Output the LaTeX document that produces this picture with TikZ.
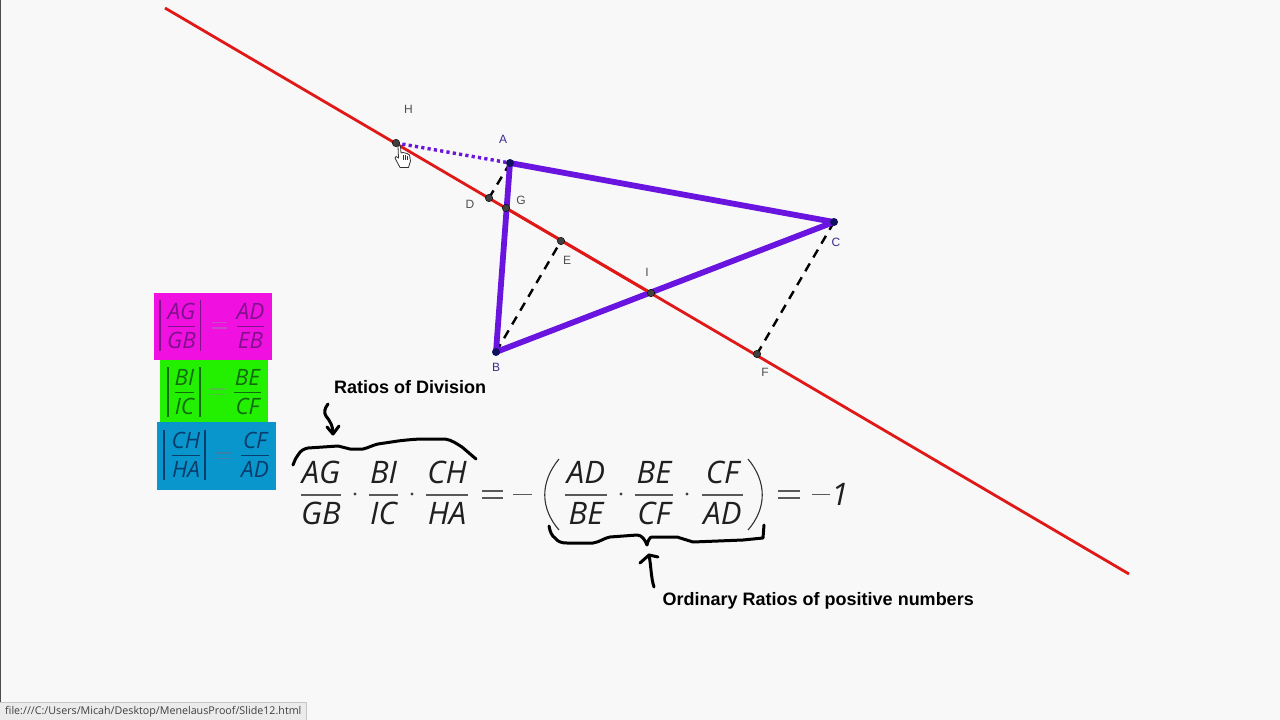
\documentclass[tikz,border=0pt]{standalone}
\usepackage{fontspec}
\setmainfont{Open Sans}
\newfontfamily\lab{Liberation Sans}
\newfontfamily\mth{Open Sans}
\definecolor{bg}{HTML}{F8F8F8}
\definecolor{vio}{HTML}{6A14E0}
\definecolor{redl}{HTML}{E01818}
\definecolor{ptg}{HTML}{404040}
\definecolor{ptb}{HTML}{101060}
\definecolor{txb}{HTML}{3A2A90}
\definecolor{txg}{HTML}{505050}
\definecolor{mag}{HTML}{F010E0}
\definecolor{grn}{HTML}{22F000}
\definecolor{blu}{HTML}{0896CC}
\definecolor{tm}{HTML}{80108C}
\definecolor{tg}{HTML}{126A10}
\definecolor{tb}{HTML}{0A3C6C}
\definecolor{em}{HTML}{C84AC8}
\definecolor{eg}{HTML}{50C040}
\definecolor{eb}{HTML}{3A80AC}
\tikzset{
 ptgrey/.style={circle,inner sep=0pt,minimum size=7.5pt,fill=ptg,draw=black,line width=.4pt},
 ptblue/.style={circle,inner sep=0pt,minimum size=8pt,fill=ptb},
 lblg/.style={text=txg,font=\lab\fontsize{12}{14}\selectfont,inner sep=0pt},
 lblb/.style={text=txb,font=\lab\fontsize{12}{14}\selectfont,inner sep=0pt},
 tri/.style={draw=vio,line width=5.8pt,line cap=round,line join=round},
 dashln/.style={draw=black,line width=2.4pt,dash pattern=on 9pt off 7pt},
 ink/.style={draw=black,line width=3pt,line cap=round,line join=round},
 bigt/.style={font=\mth\itshape\fontsize{31}{33}\selectfont,text=black!88,inner sep=0pt},
 smallt/.style={font=\mth\itshape\fontsize{22.5}{24}\selectfont,inner sep=0pt},
 boldt/.style={font=\lab\bfseries\fontsize{18}{20}\selectfont,text=black,inner sep=0pt,anchor=west},
}
\newcommand{\fracbig}[5]{% x1 x2 num den name
 \draw[black!65,line width=1.3pt] (#1,495) -- (#2,495);
 \node[bigt] (#5n) at ({(#1+#2)/2},472) {#3};
 \node[bigt] (#5d) at ({(#1+#2)/2},513) {#4};}
\newcommand{\fracsm}[8]{% x1 x2 ybar num den name colour du
 \draw[#7,line width=1pt] (#1,#3) -- (#2,#3);
 \node[smallt,text=#7] (#6n) at ({(#1+#2)/2},#3-#8) {#4};
 \node[smallt,text=#7] (#6d) at ({(#1+#2)/2},#3+#8) {#5};}
\begin{document}
\begin{tikzpicture}[x=1pt,y=-1pt]
\useasboundingbox (0,0) rectangle (1280,720);
\fill[bg] (0,0) rectangle (1280,720);
\fill[black!70] (0,0) rectangle (1,720);
% points
\coordinate (L1) at (165,8);
\coordinate (L2) at (1129,574);
\coordinate (Hp) at (396,143);
\coordinate (Ap) at (510,163);
\coordinate (Bp) at (496,352);
\coordinate (Cp) at (834,222);
\coordinate (Dp) at (489,198);
\coordinate (Gp) at (506,208);
\coordinate (Ep) at (561,241);
\coordinate (Ip) at (651,293);
\coordinate (Fp) at (757,354);
% lines
\draw[redl,line width=2.8pt] (L1) -- (L2);
\draw[dashln] (Ap) -- (Dp);
\draw[dashln] (Bp) -- (Ep);
\draw[dashln] (Cp) -- (Fp);
\draw[vio,line width=3.4pt,dash pattern=on 3.2pt off 3.2pt] (Hp) -- (Ap);
\draw[tri] (Ap) -- (Cp) -- (Bp) -- cycle;
\draw[redl,line width=2.8pt] (Gp) -- (Ip);
% point nodes
\foreach \p in {H,D,G,E,I,F} {\node[ptgrey] (n\p) at (\p p) {};}
\foreach \p in {A,B,C} {\node[ptblue] (n\p) at (\p p) {};}
\node[lblg] (tH) at (408.5,109) {H};
\node[lblb] (tA) at (503,139) {A};
\node[lblg] (tD) at (470,204) {D};
\node[lblg] (tG) at (521,200) {G};
\node[lblg] (tE) at (567,260) {E};
\node[lblg] (tI) at (647,272) {I};
\node[lblg] (tF) at (765,372) {F};
\node[lblb] (tB) at (496,367) {B};
\node[lblb] (tC) at (836,242) {C};
% cursor
\filldraw[fill=white,draw=black!80,line width=.8pt,line join=round]
 (398,146) -- (400.5,146) -- (401,153) -- (403,152.5) -- (405,153) -- (407,153.5) -- (409.5,155) -- (410.5,161) -- (408.5,167.5) -- (400,167.5) -- (395,158) -- (396,156.5) -- (398.5,158) -- cycle;
\draw[black!80,line width=.6pt] (403,155)--(403,160) (405.3,155)--(405.3,160) (407.5,156)--(407.5,160);
% boxes
\fill[mag] (153.5,293) rectangle (272,360);
\fill[grn] (160,360) rectangle (268,422);
\fill[blu] (157,422) rectangle (276,490);
% magenta
\draw[tm,line width=1.4pt] (160,300)--(160,351) (200.7,300)--(200.7,351);
\fracsm{168}{195}{326}{AG}{GB}{fa}{tm}{14.5}
\draw[em,line width=1.2pt] (212,322.5)--(227,322.5) (212,328)--(227,328);
\fracsm{237}{264}{326}{AD}{EB}{fb}{tm}{14.5}
% green
\draw[tg,line width=1.4pt] (168,367)--(168,417) (200,367)--(200,417);
\fracsm{175}{194}{392}{BI}{IC}{fc}{tg}{14.5}
\draw[eg,line width=1.2pt] (210,389)--(225,389) (210,394.5)--(225,394.5);
\fracsm{234}{261}{392}{BE}{CF}{fd}{tg}{14.5}
% blue
\draw[tb,line width=1.4pt] (164,430)--(164,480) (205,430)--(205,480);
\fracsm{172}{200}{455}{CH}{HA}{fe}{tb}{14.5}
\draw[eb,line width=1.2pt] (216,453)--(231,453) (216,458.5)--(231,458.5);
\fracsm{241}{269}{455}{CF}{AD}{ff}{tb}{14.5}
% big equation
\fracbig{301}{341}{AG}{GB}{ga}
\fill[black!75] (355,494) circle (1.6);
\fracbig{369}{398}{BI}{IC}{gb}
\fill[black!75] (412,494) circle (1.6);
\fracbig{426}{468}{CH}{HA}{gc}
\draw[black!65,line width=1.3pt] (482,491)--(503,491) (482,498)--(503,498);
\draw[black!65,line width=1.3pt] (513,494.5)--(532,494.5);
\draw[black!80,line width=1.1pt] (559,459) .. controls (540,482) and (540,508) .. (559,530);
\fracbig{565}{607}{AD}{BE}{gd}
\fill[black!75] (621,494) circle (1.6);
\fracbig{635}{673}{BE}{CF}{ge}
\fill[black!75] (687,494) circle (1.6);
\fracbig{702}{743}{CF}{AD}{gf}
\draw[black!80,line width=1.1pt] (748,459) .. controls (767,482) and (767,508) .. (748,530);
\draw[black!65,line width=1.3pt] (778,491)--(800,491) (778,498)--(800,498);
\draw[black!65,line width=1.3pt] (812,494.5)--(830,494.5);
\node[bigt] (one) at (840,494) {1};
% handwriting
\draw[ink] (293,465) .. controls (295,460) and (296,457) .. (298,455) .. controls (301,450) and (304,449) .. (308,448) -- (338,446) -- (350,449) -- (363,449) .. controls (368,448) and (373,445) .. (378,444) -- (398,441) .. controls (410,439.5) and (418,439) .. (425,439) -- (445,439) .. controls (452,440) and (457,444) .. (462,447) -- (476,459);
\draw[ink] (328,404) .. controls (324,409) and (324,413) .. (326,416) .. controls (330,421) and (333,426) .. (333,433);
\draw[ink] (327,427) -- (333,434) -- (339,426);
\draw[ink] (549,526) .. controls (550,532) and (552,536) .. (555,538) .. controls (558,542) and (562,543) .. (567,543) -- (593,543) .. controls (600,542) and (604,538) .. (610,537) -- (637,535) .. controls (642,535) and (645,540) .. (647,545) .. controls (648,540) and (650,537) .. (652,537) -- (677,537) -- (693,542) -- (743,540) -- (763,538) -- (764,525);
\draw[ink] (654,587) .. controls (651,578) and (651,565) .. (649,555);
\draw[ink] (640,563) -- (649,555) -- (658,557);
% bold labels
\node[boldt] (rd) at (334,387) {Ratios of Division};
\node[boldt] (ro) at (662.5,601) {Ordinary Ratios of positive numbers};
% status bar
\fill[black!8] (0,702) rectangle (306,720);
\draw[black!22,line width=.8pt] (0,702) -- (306,702) -- (306,720);
\node[font=\mth\fontsize{10.7}{13}\selectfont,text=black!75,anchor=west,inner sep=0pt] (st) at (5,711.5) {file:///C:/Users/Micah/Desktop/MenelausProof/Slide12.html};
\end{tikzpicture}
\end{document}
